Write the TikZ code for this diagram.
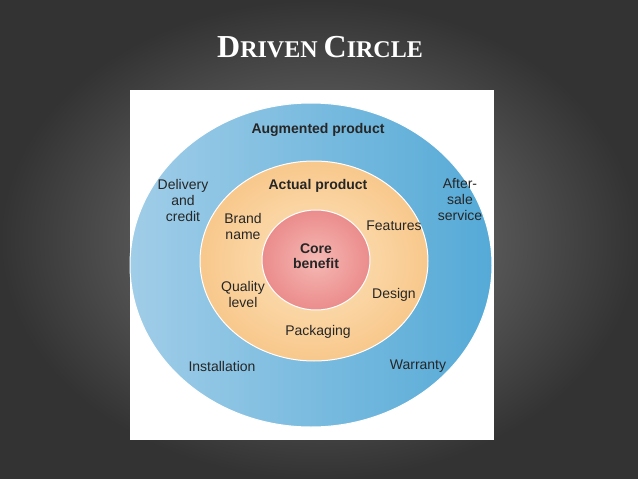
\documentclass[tikz,border=0pt]{standalone}
\usepackage{fontspec}
\setmainfont{Liberation Sans}
\newfontfamily\titlefont{Liberation Serif}
\definecolor{bluel}{RGB}{160,205,232}
\definecolor{blued}{RGB}{85,170,215}
\definecolor{peachl}{RGB}{253,228,190}
\definecolor{peachd}{RGB}{248,200,140}
\definecolor{pinkl}{RGB}{245,185,180}
\definecolor{pinkd}{RGB}{235,140,140}
\begin{document}
\begin{tikzpicture}[x=1pt,y=-1pt,
  lbl/.style={font=\bfseries\fontsize{14}{15}\selectfont,text=black!85,align=center,inner sep=0pt},
  sl/.style={font=\fontsize{14}{16}\selectfont,text=black!85,align=center,inner sep=0pt}]
\useasboundingbox (0,0) rectangle (638,479);
\shade[inner color=black!50,outer color=black!80] (0,0) rectangle (638,479);
\node[text=white,font=\titlefont\bfseries\fontsize{24}{26}\selectfont] (title) at (320,47) {{\fontsize{32}{32}\selectfont D}RIVEN {\fontsize{32}{32}\selectfont C}IRCLE};
\fill[white] (130,90) rectangle (494,440);
\shade[left color=bluel, right color=blued] (311,265) ellipse [x radius=181,y radius=162];
\draw[white,line width=1pt] (311,265) ellipse [x radius=181,y radius=162];
\shade[inner color=peachl, outer color=peachd] (314,261) ellipse [x radius=114,y radius=100];
\draw[white,line width=1pt] (314,261) ellipse [x radius=114,y radius=100];
\shade[inner color=pinkl, outer color=pinkd] (316,260) ellipse [x radius=54,y radius=50];
\draw[white,line width=1pt] (316,260) ellipse [x radius=54,y radius=50];
\node[lbl] (aug) at (318,130) {Augmented product};
\node[lbl] (act) at (318,186) {Actual product};
\node[lbl] (core) at (316,256) {Core\\benefit};
\node[sl] (deliv) at (183,200) {Delivery\\and\\credit};
\node[sl] (after) at (460,200) {After-\\sale\\service};
\node[sl] (brand) at (243,226) {Brand\\name};
\node[sl] (feat) at (394,226) {Features};
\node[sl] (qual) at (243,294) {Quality\\level};
\node[sl] (des) at (394,295) {Design};
\node[sl] (pack) at (318,332) {Packaging};
\node[sl] (inst) at (222,366) {Installation};
\node[sl] (warr) at (418,366) {Warranty};
\end{tikzpicture}
\end{document}
